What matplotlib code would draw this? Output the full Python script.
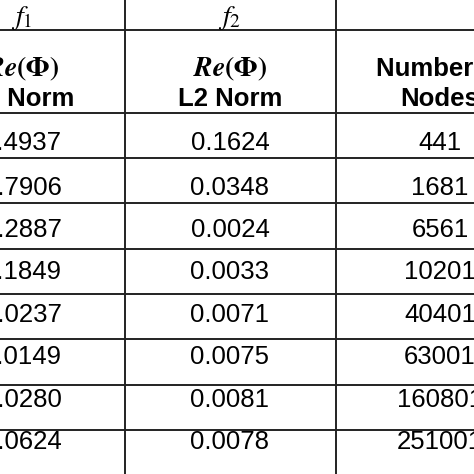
import matplotlib
matplotlib.use("Agg")
import matplotlib.pyplot as plt

plt.rcParams['mathtext.fontset'] = 'stix'

col1 = ["0.4937", "0.7906", "0.2887", "0.1849", "0.0237", "0.0149", "0.0280", "0.0624"]
col2 = ["0.1624", "0.0348", "0.0024", "0.0033", "0.0071", "0.0075", "0.0081", "0.0078"]
nodes = ["441", "1681", "6561", "10201", "40401", "63001", "160801", "251001"]
groups = [r"$f_1$", r"$f_2$"]

fig = plt.figure(figsize=(4.74, 4.74), dpi=100)
ax = fig.add_axes([0, 0, 1, 1])
ax.set_xlim(0, 474)
ax.set_ylim(474, 0)
ax.axis('off')

lc = '#222222'
lw = 1.4
for x in [125, 336]:
    ax.axvline(x, color=lc, lw=lw)
row_lines = [30, 113, 158, 203, 249, 294, 339, 385, 430, 475]
for y in row_lines:
    ax.axhline(y, color=lc, lw=lw)

cx = [22, 230, 440]
fs = 18.5
for x, g in zip(cx[:2], groups):
    ax.text(x, 18, g, ha='center', va='center', fontsize=20)
for x in cx[:2]:
    ax.text(x, 69, r"$\mathbfit{Re}\mathbf{(\Phi)}$", ha='center', va='center', fontsize=20)
    ax.text(x, 99, "L2 Norm", ha='center', va='center', fontsize=fs,
            family='Liberation Sans', weight='bold')
ax.text(cx[2], 69, "Number of", ha='center', va='center', fontsize=fs,
        family='Liberation Sans', weight='bold')
ax.text(cx[2], 99, "Nodes", ha='center', va='center', fontsize=fs,
        family='Liberation Sans', weight='bold')

centers = [143, 188, 230, 272, 315, 357, 400, 442]
for i in range(8):
    for x, v in zip(cx, [col1[i], col2[i], nodes[i]]):
        ax.text(x, centers[i], v, ha='center', va='center', fontsize=fs,
                family='Liberation Sans')

fig.savefig("out.png", dpi=100, facecolor='white')
